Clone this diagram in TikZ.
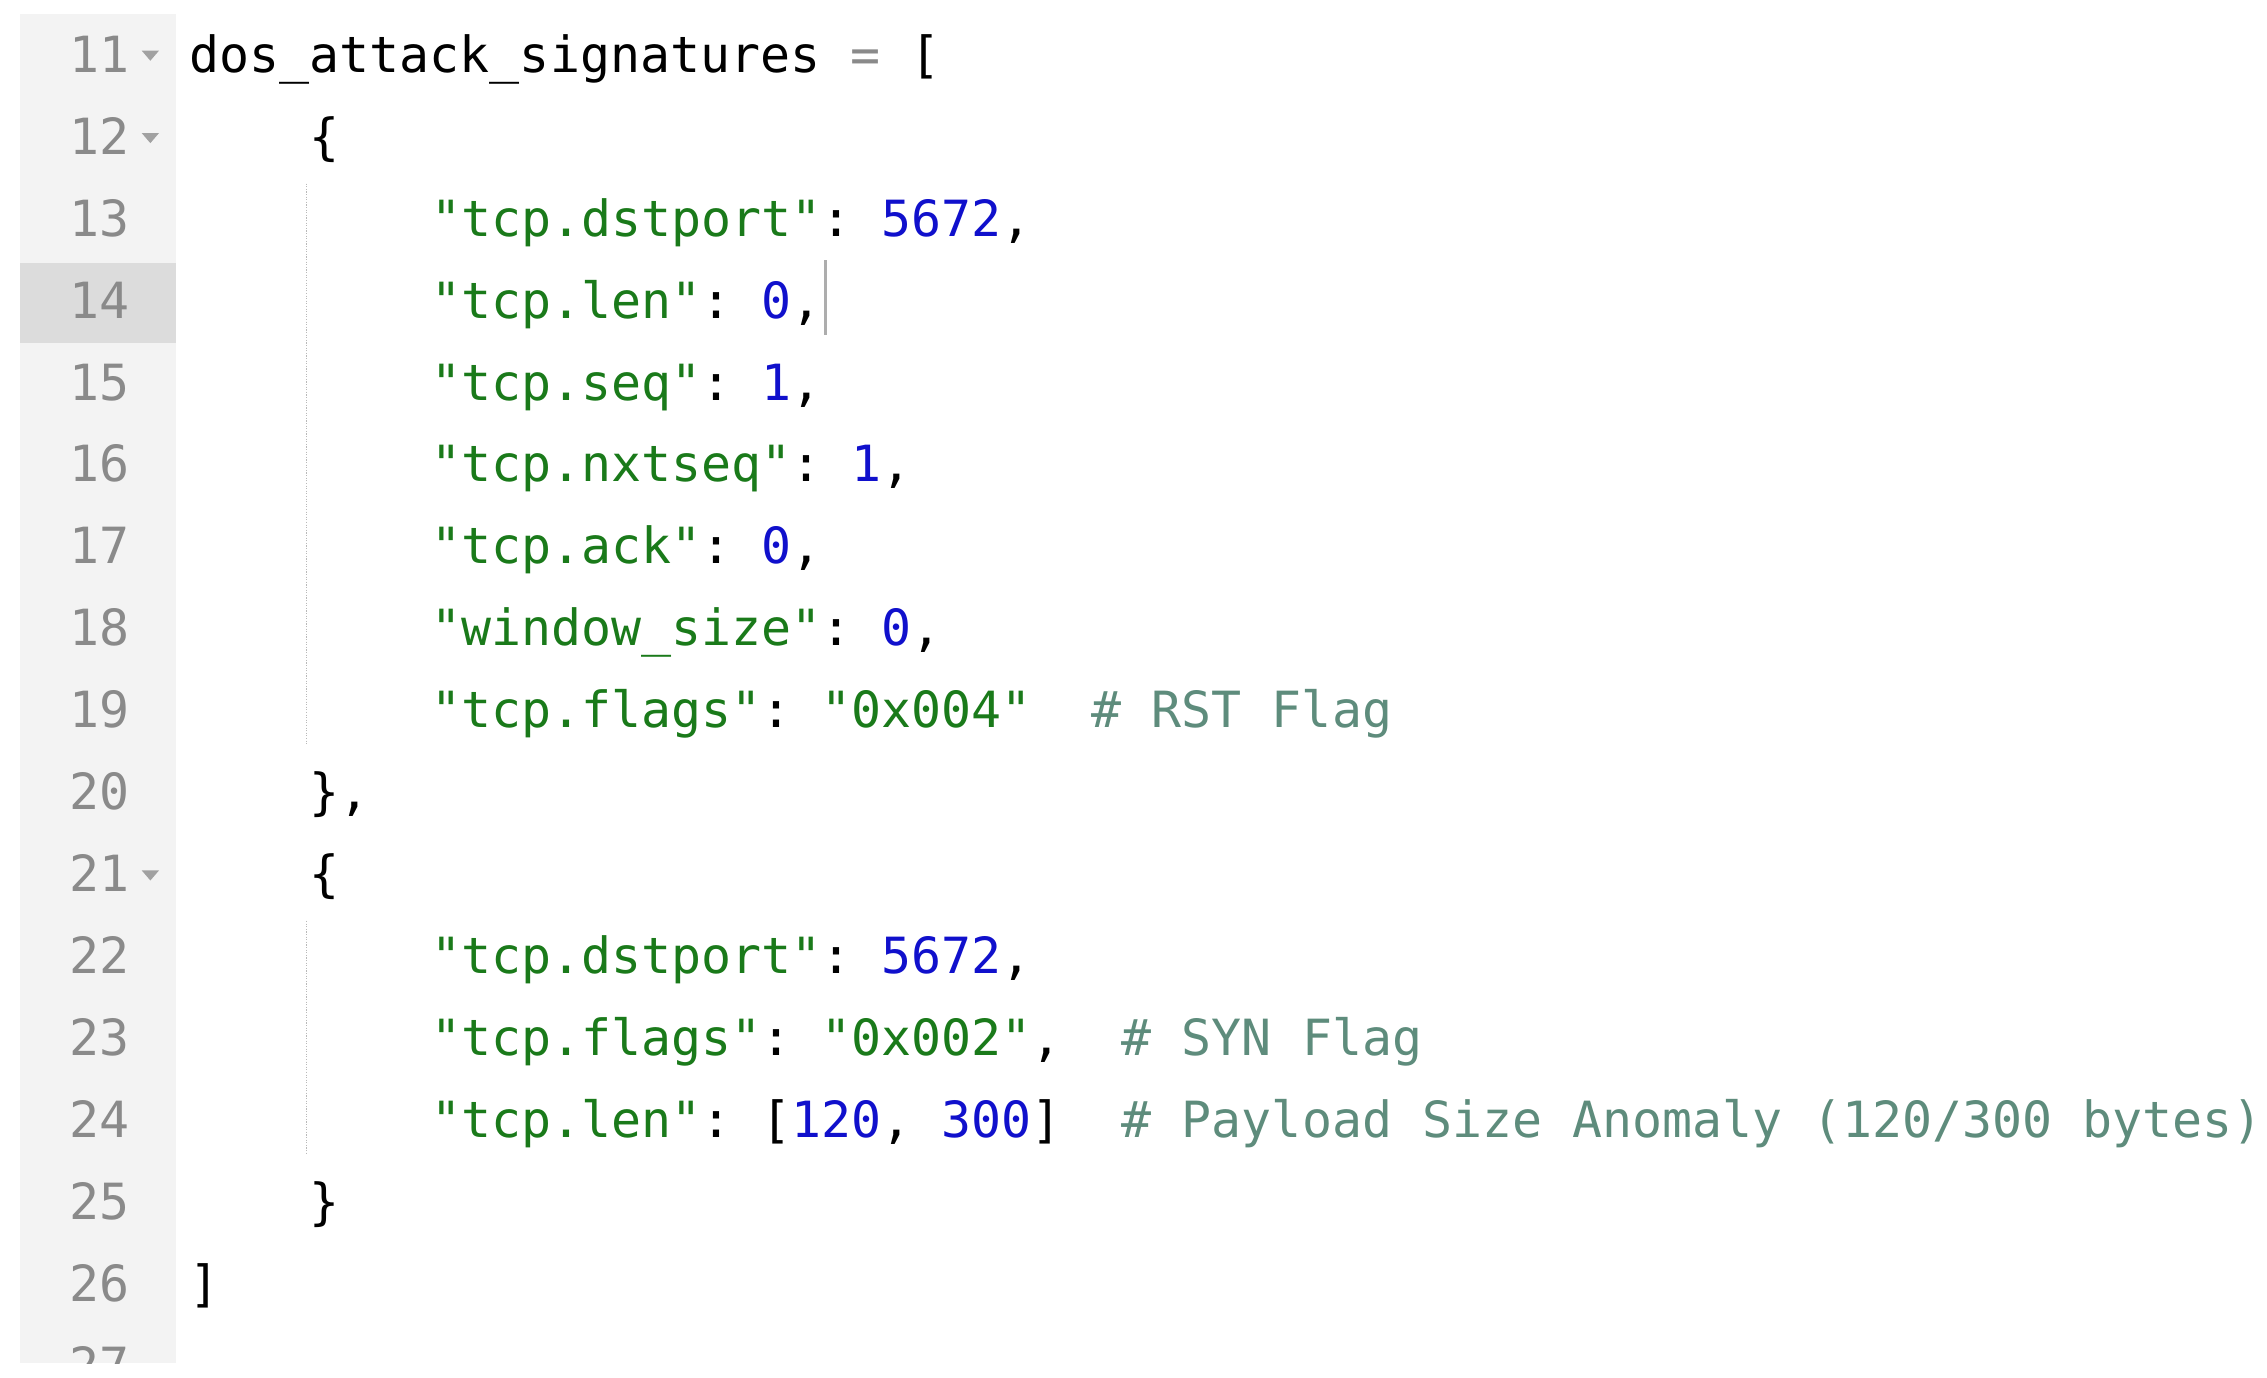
\documentclass[tikz,border=0pt]{standalone}
\usepackage{fontspec}
\setmonofont{DejaVu Sans Mono}
\definecolor{gut}{HTML}{F3F3F3}
\definecolor{hl}{HTML}{DCDCDC}
\definecolor{key}{HTML}{1A7A1A}
\definecolor{num}{HTML}{1010CC}
\definecolor{cmt}{HTML}{5E8C7C}
\definecolor{lno}{HTML}{8A8A8A}
\newcommand{\K}[1]{\textcolor{key}{#1}}
\newcommand{\N}[1]{\textcolor{num}{#1}}
\newcommand{\C}[1]{\textcolor{cmt}{#1}}
\begin{document}
\begin{tikzpicture}[x=1pt,y=-1pt,
  code/.style={anchor=base west,inner sep=0pt,font=\fontsize{34.5}{40}\selectfont\ttfamily},
  lnum/.style={code,text=lno},
  fold/.style={fill=lno!80,draw=none}]
\useasboundingbox (0,0) rectangle (1568,953);
\fill[white] (0,0) rectangle (1568,953);
\fill[gut] (14,10) rectangle (122,943);
\fill[hl] (14,182) rectangle (122,237);
% line numbers
\foreach \n [count=\i from 0] in {11,...,26}{
  \node[lnum] (ln\n) at (48,{50+56.67*\i}) {\n};
}
\begin{scope}
\clip (14,10) rectangle (122,943);
\node[lnum] (ln27) at (48,{50+56.67*16}) {27};
\end{scope}
% fold markers
\foreach \y in {38,95,605}{
  \fill[fold] (98,\y-3) -- (110,\y-3) -- (104,\y+4) -- cycle;
}
% indent guides
\draw[lno!60,densely dotted,line width=0.8] (212,127) -- (212,515);
\draw[lno!60,densely dotted,line width=0.8] (212,637) -- (212,798);
% code
\def\ly#1{50+56.67*(#1-11)}
\node[code] (c11) at (131,{\ly{11}}) {dos\_attack\_signatures \textcolor{lno}{=} [};
\node[code] (c12) at (214,{\ly{12}}) {\{};
\node[code] (c13) at (298,{\ly{13}}) {\K{"tcp.dstport"}: \N{5672},};
\node[code] (c14) at (298,{\ly{14}}) {\K{"tcp.len"}: \N{0},};
\node[code] (c15) at (298,{\ly{15}}) {\K{"tcp.seq"}: \N{1},};
\node[code] (c16) at (298,{\ly{16}}) {\K{"tcp.nxtseq"}: \N{1},};
\node[code] (c17) at (298,{\ly{17}}) {\K{"tcp.ack"}: \N{0},};
\node[code] (c18) at (298,{\ly{18}}) {\K{"window\_size"}: \N{0},};
\node[code] (c19) at (298,{\ly{19}}) {\K{"tcp.flags"}: \K{"0x004"}\ \ \C{\# RST Flag}};
\node[code] (c20) at (214,{\ly{20}}) {\},};
\node[code] (c21) at (214,{\ly{21}}) {\{};
\node[code] (c22) at (298,{\ly{22}}) {\K{"tcp.dstport"}: \N{5672},};
\node[code] (c23) at (298,{\ly{23}}) {\K{"tcp.flags"}: \K{"0x002"},\ \ \C{\# SYN Flag}};
\node[code] (c24) at (298,{\ly{24}}) {\K{"tcp.len"}: [\N{120}, \N{300}]\ \ \C{\# Payload Size Anomaly (120/300 bytes)}};
\node[code] (c25) at (214,{\ly{25}}) {\}};
\node[code] (c26) at (131,{\ly{26}}) {]};
% cursor
\draw[lno!70,line width=2] (571,180) -- (571,232);
\end{tikzpicture}
\end{document}
